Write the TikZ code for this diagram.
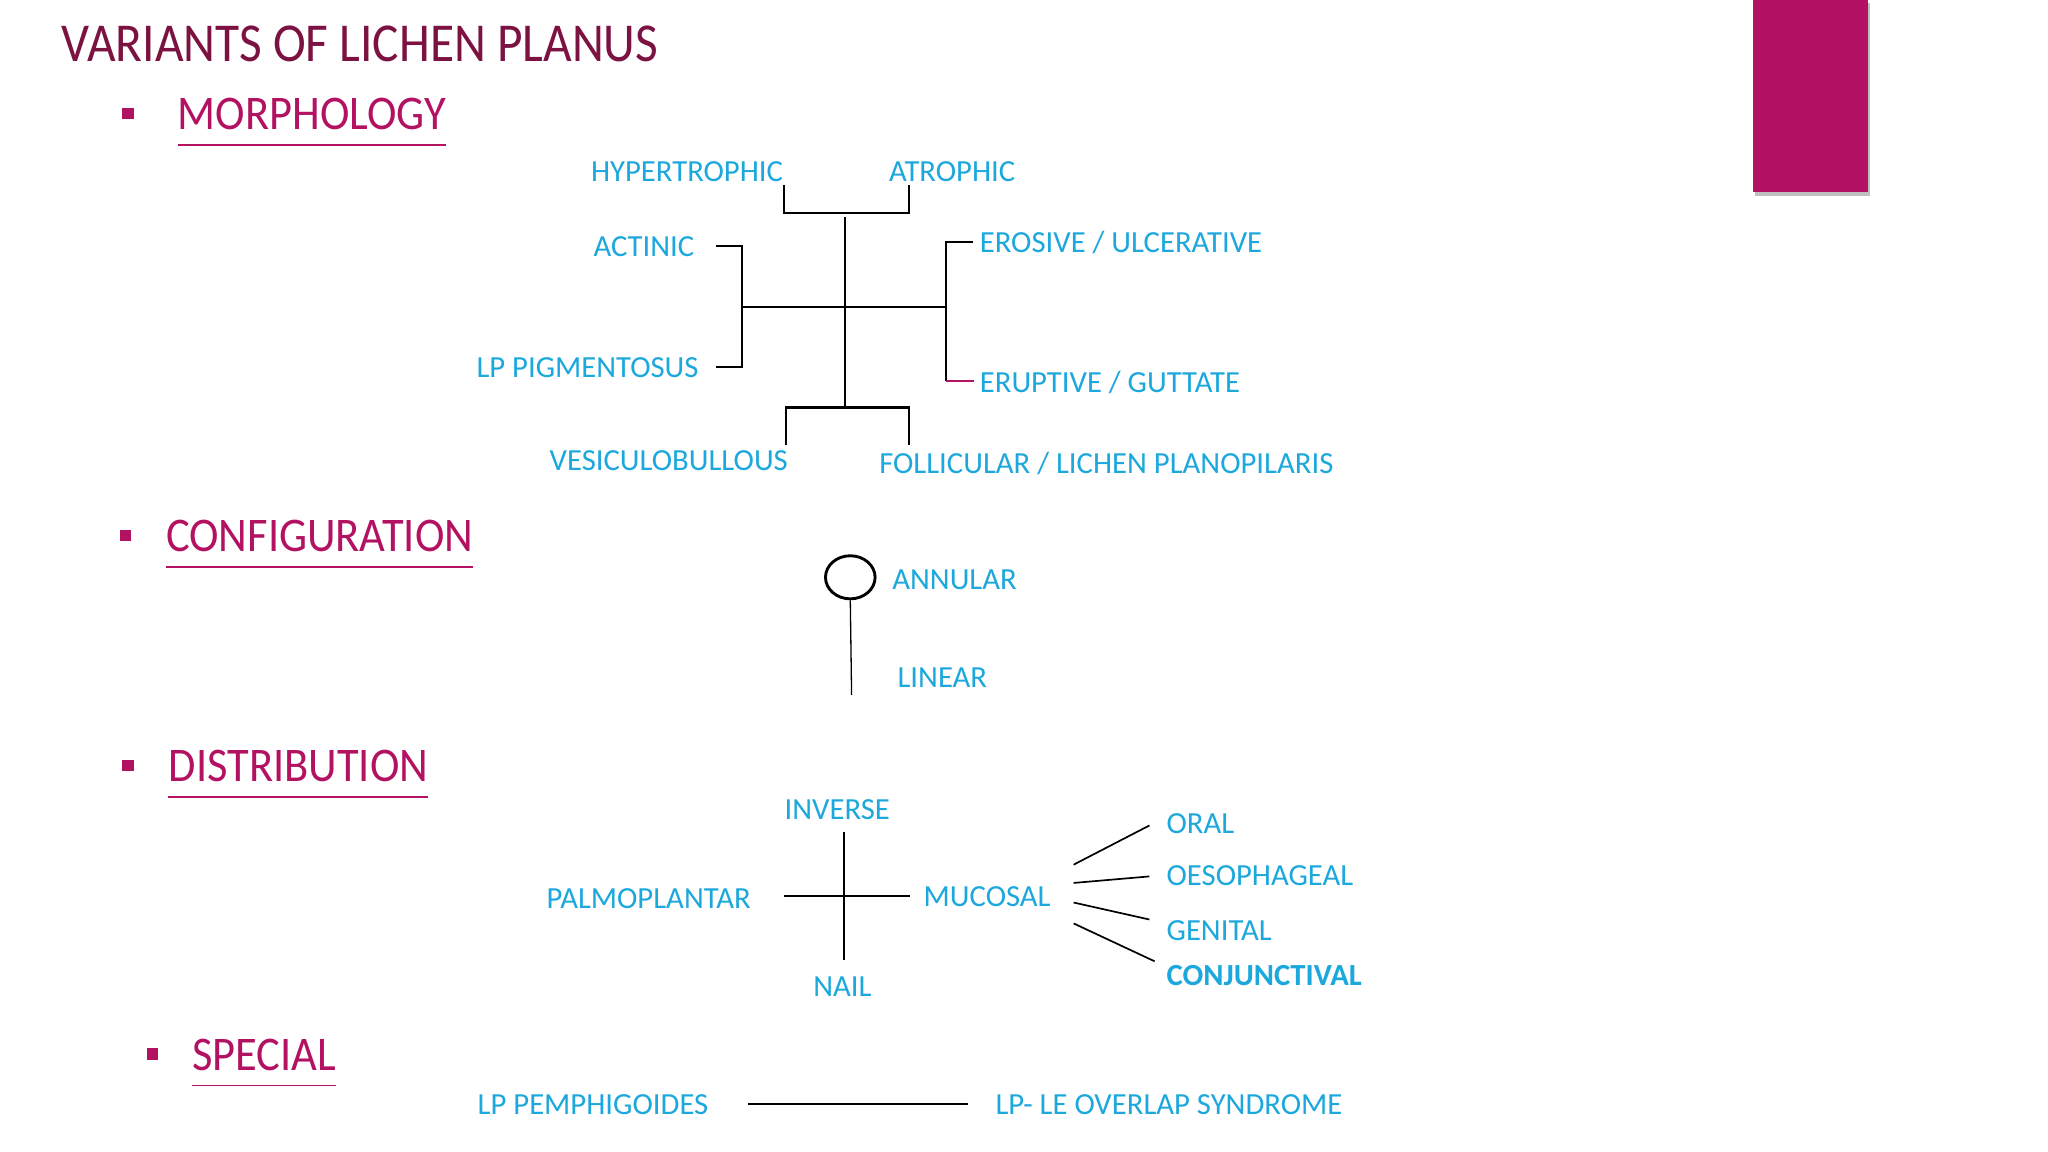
\documentclass[tikz,border=0pt]{standalone}
\usepackage{fontspec}
\usepackage{graphicx}
\usetikzlibrary{shapes.geometric}
\setmainfont{Carlito}
\definecolor{lpblue}{HTML}{1CA8DC}
\definecolor{lpmag}{HTML}{B31262}
\definecolor{lptitle}{HTML}{7B1242}
\tikzset{
 x=1pt,y=-1pt,
 lbl/.style={inner sep=0pt,text=lpblue,font=\fontsize{23.5}{25}\selectfont,text height=0.644em,text depth=0pt,yshift=-5pt},
 head/.style={inner sep=0pt,text=lpmag,font=\fontsize{37}{40}\selectfont,text height=0.644em,text depth=0pt,yshift=-9pt},
 bul/.style={fill=lpmag,minimum size=8.5pt,inner sep=0pt},
 ln/.style={draw=black,line width=1.6pt},
}
\newcommand{\hd}[1]{\scalebox{0.92}[1]{#1}}
\begin{document}
\begin{tikzpicture}
\useasboundingbox[fill=white] (0,0) rectangle (1568,882);
% accent bar
\fill[black!25] (1344,2) rectangle (1432,150);
\fill[lpmag] (1342,0) rectangle (1430,147);
% title
\node[anchor=west,inner sep=0pt,text=lptitle,font=\fontsize{42}{44}\selectfont,text height=0.644em,text depth=0pt,yshift=-11pt] (title) at (47,33) {\scalebox{0.9}[1]{VARIANTS OF LICHEN PLANUS}};
% headings
\node[bul] (b1) at (98,87) {};
\node[head,anchor=west] (h1) at (136,87) {\hd{MORPHOLOGY}};
\node[bul] (b2) at (96,410) {};
\node[head,anchor=west] (h2) at (127,410) {\hd{CONFIGURATION}};
\node[bul] (b3) at (98,586) {};
\node[head,anchor=west] (h3) at (129,586) {\hd{DISTRIBUTION}};
\node[bul] (b4) at (117,807) {};
\node[head,anchor=west] (h4) at (147,807) {\hd{SPECIAL}};
\foreach \h in {h1,h2,h3,h4}{\draw[lpmag,line width=1.3pt] ([yshift=-15pt]\h.west) -- ([yshift=-15pt]\h.east);}
% morphology
\node[lbl] (hyp) at (526,131) {HYPERTROPHIC};
\node[lbl] (atr) at (729,131) {ATROPHIC};
\node[lbl] (act) at (493,188) {ACTINIC};
\node[lbl,anchor=east] (lpp) at (535,281) {LP PIGMENTOSUS};
\node[lbl,anchor=west] (ero) at (750,185) {EROSIVE / ULCERATIVE};
\node[lbl,anchor=west] (eru) at (750,292) {ERUPTIVE / GUTTATE};
\node[lbl] (ves) at (512,352) {VESICULOBULLOUS};
\node[lbl,anchor=west] (fol) at (673,354) {FOLLICULAR / LICHEN PLANOPILARIS};
\coordinate (c) at (647,235);
\coordinate (ct) at (647,166);
\coordinate (cb) at (647,312);
\coordinate (cl) at (568,235);
\coordinate (cr) at (724,235);
\draw[ln] (ct) -- (cb);
\draw[ln] (cl) -- (cr);
\draw[ln] (600,142) -- (600,163) -- (696,163) -- (696,142);
\draw[ln] (548,188) -- (568,188) -- (568,281) -- (548,281);
\draw[ln] (745,185) -- (724,185) -- (724,292);
\draw[lpmag,line width=1.6pt] (724,292) -- (746,292);
\draw[ln] (602,341) -- (602,312) -- (696,312) -- (696,341);
% configuration
\node[draw=black,line width=2.2pt,ellipse,minimum width=38pt,minimum height=33pt,inner sep=0pt] (circ) at (651,442) {};
\coordinate (lend) at (652,532);
\draw[black,line width=1pt] (circ.south) -- (lend);
\node[lbl,anchor=west] (ann) at (683,443) {ANNULAR};
\node[lbl,anchor=west] (lin) at (687,518) {LINEAR};
% distribution
\node[lbl] (inv) at (641,619) {INVERSE};
\node[lbl,anchor=east] (pal) at (575,687) {PALMOPLANTAR};
\node[lbl,anchor=west] (muc) at (707,686) {MUCOSAL};
\node[lbl] (nail) at (645,755) {NAIL};
\draw[ln] (646,637) -- (646,735);
\draw[ln] (600,686) -- (697,686);
\node[lbl,anchor=west] (oral) at (893,630) {ORAL};
\node[lbl,anchor=west] (oes) at (893,670) {OESOPHAGEAL};
\node[lbl,anchor=west] (gen) at (893,712) {GENITAL};
\node[lbl,anchor=west,font=\fontsize{23.5}{25}\selectfont\bfseries] (con) at (893,746) {CONJUNCTIVAL};
\draw[black,line width=1.3pt] (822,662) -- (880,632);
\draw[black,line width=1.3pt] (822,676) -- (880,671);
\draw[black,line width=1.3pt] (822,691) -- (880,704);
\draw[black,line width=1.3pt] (822,707) -- (884,736);
% special
\node[lbl] (pem) at (454,845) {LP PEMPHIGOIDES};
\node[lbl,anchor=west] (ovl) at (762,845) {LP- LE OVERLAP SYNDROME};
\draw[black,line width=1.3pt] (573,845) -- (741,845);
\end{tikzpicture}
\end{document}
